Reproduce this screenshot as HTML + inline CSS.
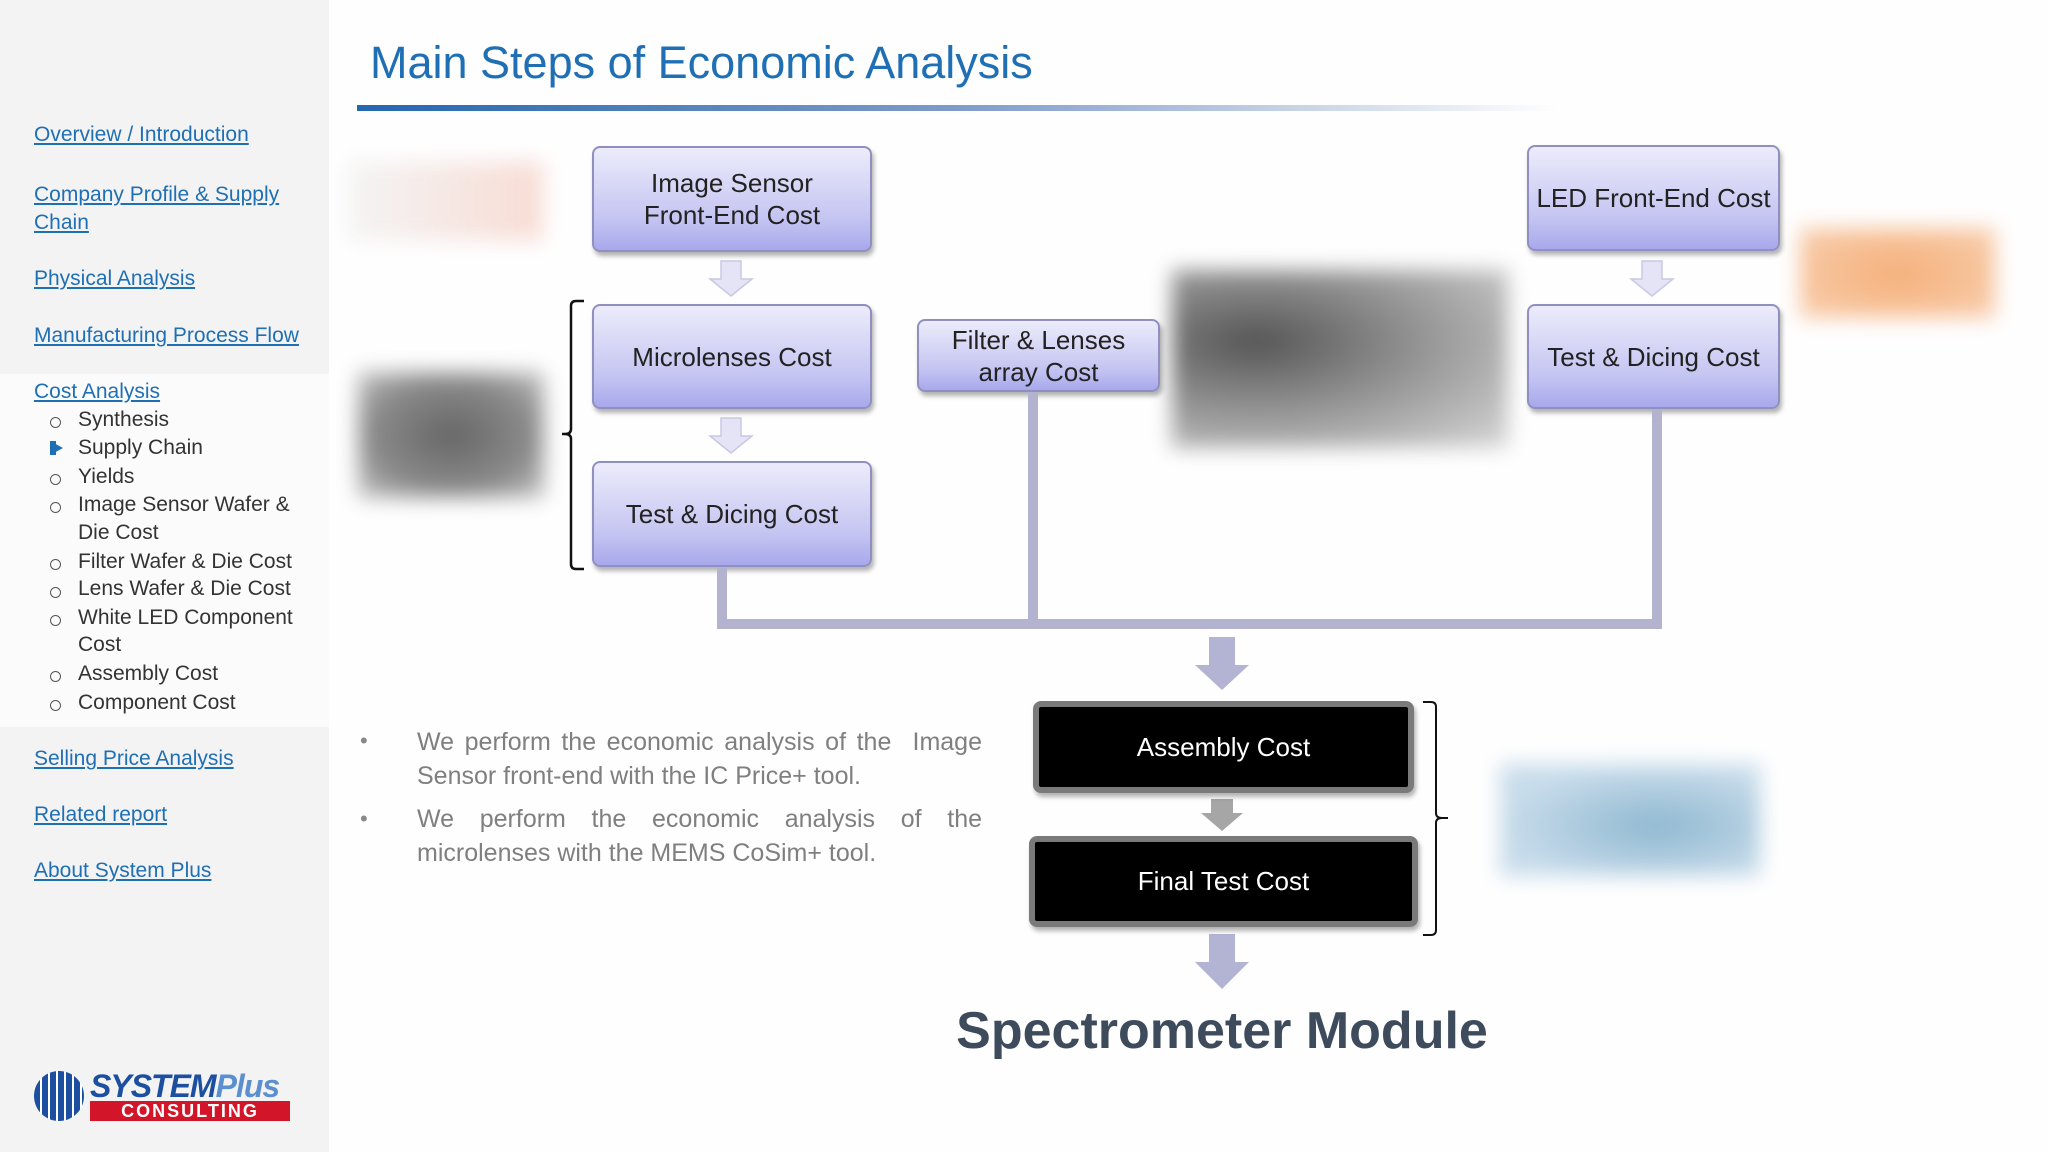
<!DOCTYPE html>
<html><head><meta charset="utf-8"><style>
*{margin:0;padding:0;box-sizing:border-box}
body{width:2048px;height:1152px;position:relative;overflow:hidden;background:#fefefe;font-family:"Liberation Sans",sans-serif}
.a{position:absolute}
.side{left:0;top:0;width:329px;height:1152px;background:#f3f3f3}
.lnk{position:absolute;left:34px;color:#1f6fb5;text-decoration:underline;font-size:21px;line-height:28px}
.sub{position:absolute;left:78px;color:#333;font-size:21px;line-height:28px}
.bul{position:absolute;left:50px;width:11px;height:11px;border:1.5px solid #555;border-radius:50%}
.box{position:absolute;border:2px solid #9090c0;border-radius:8px;background:linear-gradient(#ececfb,#c4c4f2 70%,#a8a8ec);box-shadow:2px 4px 5px rgba(0,0,0,.3);display:flex;align-items:center;justify-content:center;text-align:center;font-size:26px;color:#222;line-height:32px}
.blk{position:absolute;background:#000;border:6px solid #7a7a7a;border-radius:8px;box-shadow:2px 4px 5px rgba(0,0,0,.3);display:flex;align-items:center;justify-content:center;color:#fff;font-size:26px}
.blur{position:absolute;filter:blur(10px)}
.bt{position:absolute;left:417px;width:565px;font-size:25px;color:#7f7f7f;line-height:34px;text-align:justify}
</style></head><body>
<div class="a side"></div>
<div class="a" style="left:0;top:374px;width:329px;height:353px;background:#fbfbfb"></div>
<a class="lnk" style="top:121px">Overview / Introduction</a>
<a class="lnk" style="top:181px">Company Profile &amp; Supply</a>
<a class="lnk" style="top:209px">Chain</a>
<a class="lnk" style="top:265px">Physical Analysis</a>
<a class="lnk" style="top:322px">Manufacturing Process Flow</a>
<a class="lnk" style="top:378px">Cost Analysis</a>
<div class="bul" style="top:417px"></div><div class="sub" style="top:406px">Synthesis</div>
<div class="a" style="left:50px;top:441px;width:0;height:0;border-left:13px solid #1f6fb5;border-top:7px solid transparent;border-bottom:7px solid transparent"></div><div class="a" style="left:50px;top:441px;width:6px;height:14px;background:#1f6fb5"></div><div class="sub" style="top:434px">Supply Chain</div>
<div class="bul" style="top:474px"></div><div class="sub" style="top:463px">Yields</div>
<div class="bul" style="top:502px"></div><div class="sub" style="top:491px">Image Sensor Wafer &amp;</div>
<div class="sub" style="top:519px">Die Cost</div>
<div class="bul" style="top:559px"></div><div class="sub" style="top:548px">Filter Wafer &amp; Die Cost</div>
<div class="bul" style="top:587px"></div><div class="sub" style="top:575px">Lens Wafer &amp; Die Cost</div>
<div class="bul" style="top:615px"></div><div class="sub" style="top:604px">White LED Component</div>
<div class="sub" style="top:631px">Cost</div>
<div class="bul" style="top:671px"></div><div class="sub" style="top:660px">Assembly Cost</div>
<div class="bul" style="top:700px"></div><div class="sub" style="top:689px">Component Cost</div>
<a class="lnk" style="top:745px">Selling Price Analysis</a>
<a class="lnk" style="top:801px">Related report</a>
<a class="lnk" style="top:857px">About System Plus</a>
<div class="a" style="left:34px;top:1071px;width:50px;height:50px;border-radius:50%;background:repeating-linear-gradient(90deg,#1d4fa0 0 6px,#fff 6px 8px),#1d4fa0;"></div>
<div class="a" style="left:90px;top:1068px;font-size:32px;font-weight:bold;color:#1d4fa0;font-style:italic;letter-spacing:-1px">SYSTEM<span style="color:#5b8fd0">Plus</span></div>
<div class="a" style="left:90px;top:1101px;width:200px;height:20px;background:#d3152a;color:#fff;font-size:18px;font-weight:bold;text-align:center;line-height:20px;letter-spacing:2px">CONSULTING</div>

<div class="a" style="left:370px;top:37px;font-size:45px;color:#1f6fb5">Main Steps of Economic Analysis</div>
<div class="a" style="left:357px;top:105px;width:1200px;height:6px;background:linear-gradient(90deg,#2367b0,#7f9bc8 50%,rgba(255,255,255,0))"></div>

<div class="blur" style="left:348px;top:162px;width:195px;height:78px;background:linear-gradient(90deg,#f4f4f4,#f8dcd4)"></div>
<div class="blur" style="left:358px;top:372px;width:186px;height:126px;background:radial-gradient(#666,#8a8a8a 60%,#c8c8c8)"></div>
<div class="blur" style="left:1172px;top:270px;width:336px;height:178px;background:radial-gradient(ellipse at 25% 40%,#555,#999 50%,#d8d8d8)"></div>
<div class="blur" style="left:1800px;top:228px;width:195px;height:90px;background:radial-gradient(#f5b07a,#f8cfb0)"></div>
<div class="blur" style="left:1500px;top:764px;width:260px;height:112px;background:radial-gradient(ellipse at 60% 55%,#8fb8d0,#c8dceb 70%)"></div>

<div class="box" style="left:592px;top:146px;width:280px;height:106px">Image Sensor<br>Front-End Cost</div>
<div class="box" style="left:592px;top:304px;width:280px;height:105px">Microlenses Cost</div>
<div class="box" style="left:592px;top:461px;width:280px;height:106px">Test &amp; Dicing Cost</div>
<div class="box" style="left:917px;top:319px;width:243px;height:73px">Filter &amp; Lenses<br>array Cost</div>
<div class="box" style="left:1527px;top:145px;width:253px;height:106px">LED Front-End Cost</div>
<div class="box" style="left:1527px;top:304px;width:253px;height:105px">Test &amp; Dicing Cost</div>

<svg class="a" style="left:0;top:0" width="2048" height="1152">
<g fill="#e4e4f6" stroke="#c8c8e4" stroke-width="1.5">
<path d="M721 261h20v18h11l-21 17-21-17h11z"/>
<path d="M721 418h20v18h11l-21 17-21-17h11z"/>
<path d="M1642 261h20v18h11l-21 17-21-17h11z"/>
</g>
<g fill="none" stroke="#b3b3cf" stroke-width="10">
<path d="M722 567V624H1657V409"/>
<path d="M1033 392V624"/>
</g>
<g fill="#b3b3d3">
<path d="M1209 637h26v28h14l-27 25-27-25h14z"/>
<path d="M1209 934h26v28h14l-27 27-27-27h14z"/>
</g>
<path d="M1211 799h22v14h10l-21 18-21-18h10z" fill="#a6a6a6"/>
<path d="M584 301h-8q-5 0-5 5v123q0 5-6 5h-3h3q6 0 6 5v125q0 5 5 5h8" fill="none" stroke="#111" stroke-width="2.5"/>
<path d="M1423 702h8q5 0 5 5v106q0 5 6 5h6h-6q-6 0-6 5v107q0 5-5 5h-8" fill="none" stroke="#111" stroke-width="2"/>
</svg>

<div class="blk" style="left:1033px;top:701px;width:381px;height:92px">Assembly Cost</div>
<div class="blk" style="left:1029px;top:836px;width:389px;height:91px">Final Test Cost</div>
<div class="a" style="left:900px;top:1001px;width:644px;text-align:center;font-size:52px;font-weight:bold;color:#3d4b5c">Spectrometer Module</div>

<div class="a" style="left:360px;top:728px;font-size:22px;color:#888">•</div>
<div class="a" style="left:360px;top:806px;font-size:22px;color:#888">•</div>
<div class="bt" style="top:725px;text-align-last:left">We perform the economic analysis of the&nbsp; Image Sensor front-end with the IC Price+ tool.</div>
<div class="bt" style="top:802px;text-align-last:left">We perform the economic analysis of the microlenses with the MEMS CoSim+ tool.</div>
</body></html>
